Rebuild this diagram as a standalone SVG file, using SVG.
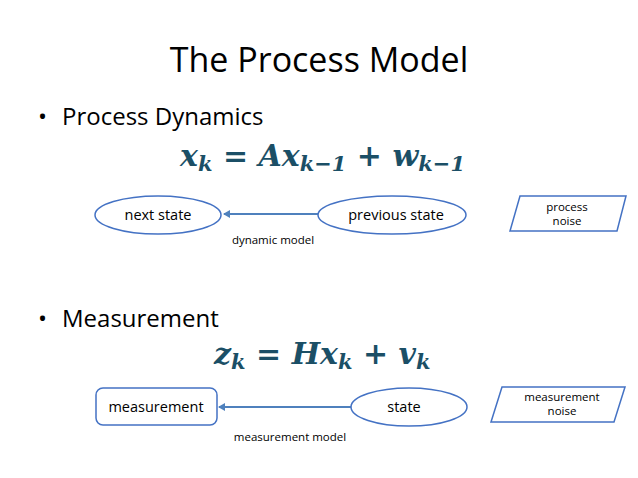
<svg xmlns="http://www.w3.org/2000/svg" width="638" height="478" viewBox="0 0 638 478">
<style>
text{font-family:"Open Sans","Liberation Sans",sans-serif;fill:#000}
.t{font-size:34px}
.b{font-size:24px}
.eq{font-family:"DejaVu Serif",serif;font-weight:bold;font-style:italic;fill:#1B4F66;font-size:30px}
.n{font-size:14.5px}
.s{font-size:11.5px}
.sh{fill:#fff;stroke:#4472C4;stroke-width:1.5}
.c{stroke:#4F81BD;stroke-width:2;fill:none}
</style>
<defs><marker id="ah" markerWidth="8" markerHeight="8" refX="6" refY="4" orient="auto" markerUnits="userSpaceOnUse"><path d="M0,0L7,4L0,8z" fill="#4F81BD"/></marker></defs>
<rect width="638" height="478" fill="#fff"/>
<text class="t" x="319" y="72" text-anchor="middle">The Process Model</text>
<text x="38" y="125" font-size="24">•</text><text class="b" x="62" y="125">Process Dynamics</text>
<text class="eq" x="180" y="166">x<tspan font-size="21" dy="5">k</tspan><tspan dy="-5"> = Ax</tspan><tspan font-size="21" dy="5">k−1</tspan><tspan dy="-5"> + w</tspan><tspan font-size="21" dy="5">k−1</tspan></text>
<text x="38" y="327" font-size="24">•</text><text class="b" x="62" y="327">Measurement</text>
<text class="eq" x="214" y="364">z<tspan font-size="21" dy="5">k</tspan><tspan dy="-5"> = Hx</tspan><tspan font-size="21" dy="5">k</tspan><tspan dy="-5"> + v</tspan><tspan font-size="21" dy="5">k</tspan></text>
<g id="connectors">
<line class="c" x1="318" y1="214" x2="224" y2="214" marker-end="url(#ah)"/>
<line class="c" x1="351" y1="407" x2="219" y2="407" marker-end="url(#ah)"/>
</g>
<g id="next"><ellipse class="sh" cx="158" cy="215" rx="63" ry="19"/><text class="n" x="158" y="220" text-anchor="middle">next state</text></g>
<g id="prev"><ellipse class="sh" cx="392" cy="215" rx="74" ry="19"/><text class="n" x="396" y="220" text-anchor="middle">previous state</text></g>
<g id="dyn"><text class="s" x="273" y="244" text-anchor="middle">dynamic model</text></g>
<g id="pnoise"><polygon class="sh" points="520,196 626,196 617,231 510,231"/><text class="s" x="567" y="211" text-anchor="middle">process</text><text class="s" x="567" y="225" text-anchor="middle">noise</text></g>
<g id="meas"><rect class="sh" x="96" y="388" width="121" height="37" rx="7"/><text class="n" x="156" y="412" text-anchor="middle">measurement</text></g>
<g id="state"><ellipse class="sh" cx="409" cy="407" rx="58" ry="19"/><text class="n" x="404" y="412" text-anchor="middle">state</text></g>
<g id="mm"><text class="s" x="290" y="441" text-anchor="middle">measurement model</text></g>
<g id="mnoise"><polygon class="sh" points="502,387 625,387 614,422 491,422"/><text class="s" x="562" y="401" text-anchor="middle">measurement</text><text class="s" x="562" y="415" text-anchor="middle">noise</text></g>
</svg>
